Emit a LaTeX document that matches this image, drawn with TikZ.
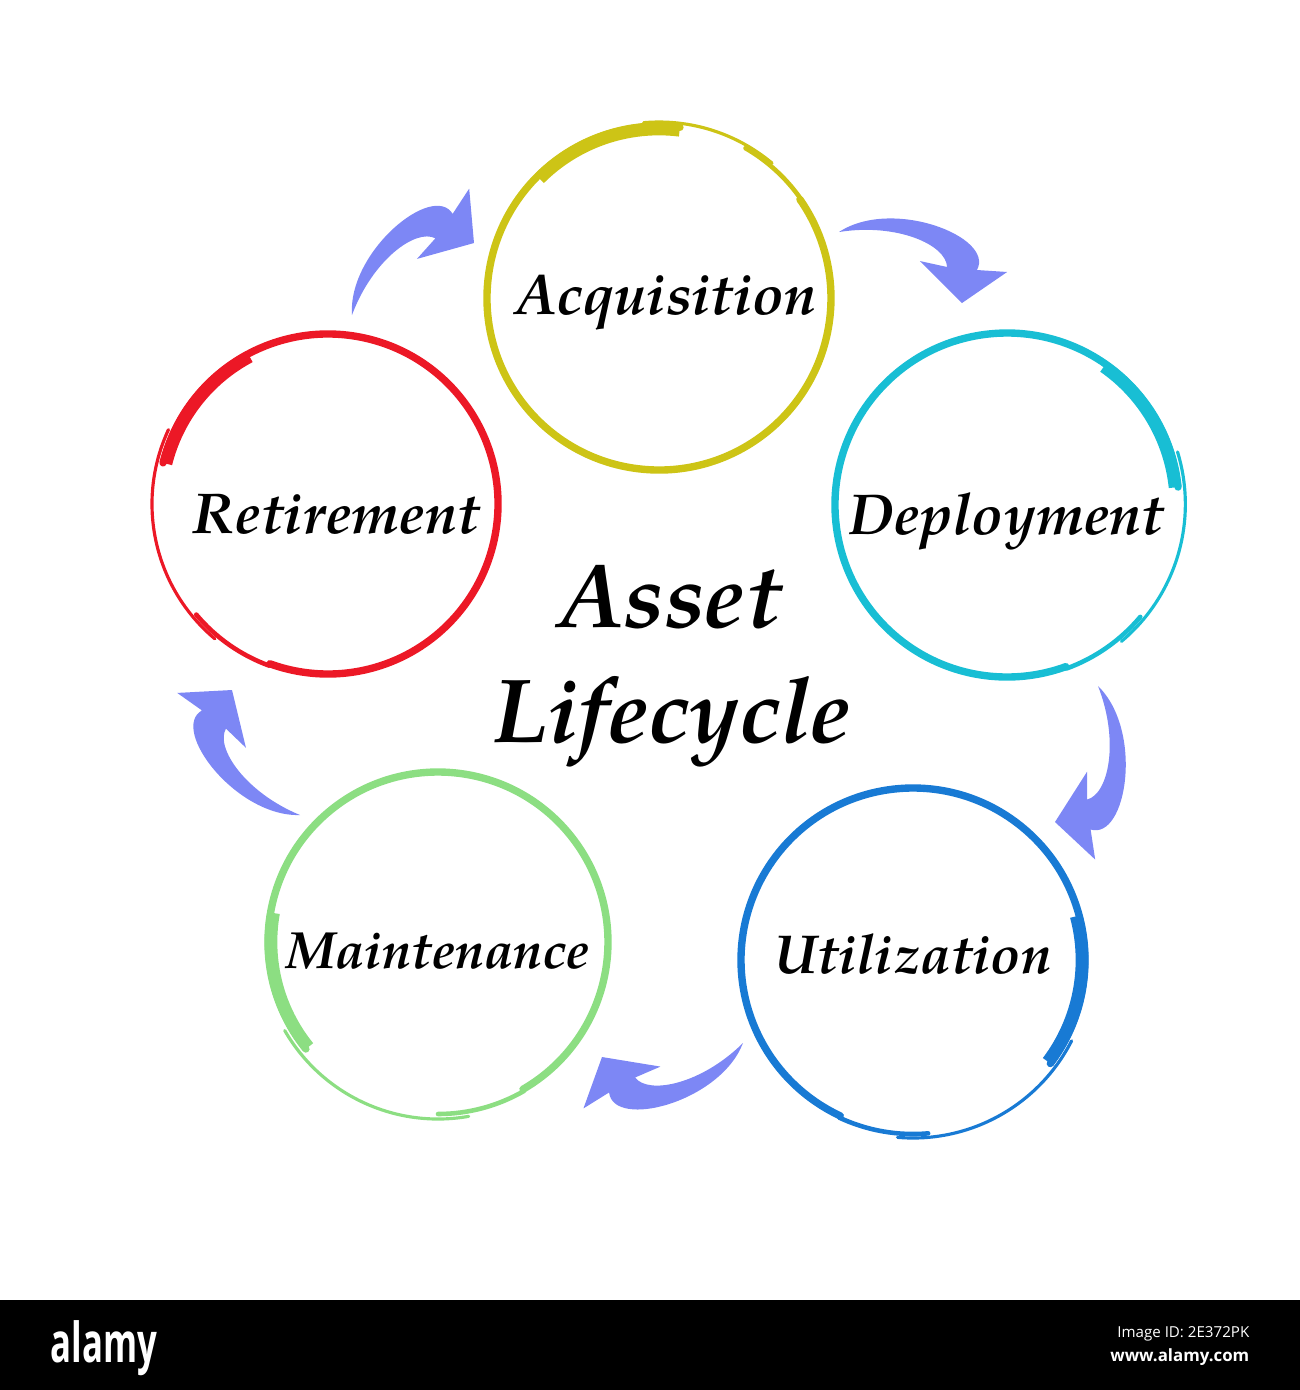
\documentclass[tikz,border=0pt]{standalone}
\usepackage{fontspec}
\usepackage{graphicx}
\usepackage{tikz}
\usetikzlibrary{calc}
\newfontfamily\barfont{Open Sans}
\IfFontExistsTF{TeX Gyre Pagella}{\newfontfamily\stagefam{TeX Gyre Pagella}}{\newfontfamily\stagefam{Liberation Serif}}
\newcommand*{\stagefont}{\stagefam\bfseries\itshape\fontsize{16.4}{18}\selectfont}
\newcommand*{\titlefont}{\stagefam\bfseries\itshape\fontsize{25.9}{30}\selectfont}
\definecolor{acqcol}{RGB}{205,196,22}
\definecolor{depcol}{RGB}{24,190,212}
\definecolor{utilcol}{RGB}{24,122,212}
\definecolor{maintcol}{RGB}{140,222,130}
\definecolor{retcol}{RGB}{236,24,38}
\definecolor{arrowcol}{RGB}{125,135,245}
\tikzset{
  ring/.style={line width=2.1pt, line cap=round},
  taper/.style={line width=1.3pt, line cap=round},
  brush/.style={line width=3.6pt},
  thinring/.style={line width=0.9pt, line cap=round},
  stage/.style={inner sep=0pt, anchor=base, font=\stagefont},
  title/.style={inner sep=0pt, anchor=base, font=\titlefont},
  loc/.style={shift={(\tikztostart)}, x={(\x1,\y1)}, y={(-\y1,\x1)}},
  bigarrow/.style={fill=arrowcol, to path={let \p1=($(\tikztotarget)-(\tikztostart)$) in
    .. controls ([loc]0.2,0.4) and ([loc]0.97,0.52) .. ([loc]0.975,0.254)
    -- ([loc]1.166,0.348) -- (\tikztotarget) -- ([loc]0.596,0.108) -- ([loc]0.782,0.167)
    .. controls ([loc]0.70,0.30) and ([loc]0.32,0.26) .. (\tikztostart)}}
}

\begin{document}
\begin{tikzpicture}
\useasboundingbox (0,0) rectangle (13,-13.9);
\coordinate (acqc) at (6.59,-2.98);
\coordinate (depc) at (10.07,-5.05);
\coordinate (utilc) at (9.13,-9.60);
\coordinate (maintc) at (4.38,-9.42);
\coordinate (retc) at (3.28,-5.04);

\draw[ring,acqcol] (acqc) ++(83:1.72) arc[start angle=83, end angle=395, radius=1.72];
\draw[taper,acqcol] (acqc) ++(395:1.73) arc[start angle=395, end angle=420, radius=1.73];
\draw[brush,acqcol] (acqc) ++(83:1.69) arc[start angle=83, end angle=135, radius=1.69];
\draw[thinring,acqcol] (acqc) ++(410:1.76) arc[start angle=410, end angle=455, radius=1.76];

\draw[ring,depcol] (depc) ++(6:1.72) arc[start angle=6, end angle=290, radius=1.72];
\draw[taper,depcol] (depc) ++(290:1.74) arc[start angle=290, end angle=320, radius=1.74];
\draw[brush,depcol] (depc) ++(6:1.69) arc[start angle=6, end angle=55, radius=1.69];
\draw[thinring,depcol] (depc) ++(310:1.78) arc[start angle=310, end angle=377, radius=1.79];

\draw[ring,utilcol] (utilc) ++(-37:1.72) arc[start angle=-37, end angle=245, radius=1.72];
\draw[taper,utilcol] (utilc) ++(245:1.74) arc[start angle=245, end angle=275, radius=1.74];
\draw[brush,utilcol] (utilc) ++(-37:1.69) arc[start angle=-37, end angle=15, radius=1.69];
\draw[thinring,utilcol] (utilc) ++(265:1.78) arc[start angle=265, end angle=333, radius=1.78];

\draw[ring,maintcol] (maintc) ++(219:1.70) arc[start angle=219, end angle=-60, radius=1.70];
\draw[taper,maintcol] (maintc) ++(-60:1.72) arc[start angle=-60, end angle=-90, radius=1.72];
\draw[brush,maintcol] (maintc) ++(219:1.67) arc[start angle=219, end angle=170, radius=1.67];
\draw[thinring,maintcol] (maintc) ++(-80:1.77) arc[start angle=-80, end angle=-150, radius=1.77];

\draw[ring,retcol] (retc) ++(166:1.70) arc[start angle=166, end angle=-110, radius=1.70];
\draw[taper,retcol] (retc) ++(-110:1.72) arc[start angle=-110, end angle=-140, radius=1.72];
\draw[brush,retcol] (retc) ++(166:1.67) arc[start angle=166, end angle=118, radius=1.67];
\draw[thinring,retcol] (retc) ++(-130:1.76) arc[start angle=-130, end angle=-205, radius=1.76];

\node[stage] (acq) at (6.66,-3.14) {Acquisition};
\node[stage] (dep) at (10.07,-5.34) {Deployment};
\node[stage, font=\stagefont\fontsize{15.6}{18}\selectfont] (util) at (9.13,-9.73) {Utilization};
\node[stage, font=\stagefont\fontsize{14.9}{18}\selectfont] (maint) at (4.38,-9.68) {Maintenance};
\node[stage] (ret) at (3.36,-5.33) {Retirement};
\node[title] (asset) at (6.70,-6.27) {Asset};
\node[title] (life) at (6.72,-7.42) {Lifecycle};

\coordinate (ra) at (3.52,-3.15);
\coordinate (rb) at (4.74,-2.43);
\coordinate (aa) at (8.39,-2.32);
\coordinate (ab) at (9.62,-3.03);
\coordinate (da) at (10.98,-6.86);
\coordinate (db) at (10.55,-8.22);
\coordinate (ua) at (7.43,-10.43);
\coordinate (ub) at (6.02,-10.57);
\coordinate (ma) at (3.00,-8.15);
\coordinate (mb) at (2.32,-6.90);
\path[bigarrow] (ra) to (rb);
\path[bigarrow] (aa) to (ab);
\path[bigarrow] (da) to (db);
\path[bigarrow] (ua) to (ub);
\path[bigarrow] (ma) to (mb);

\fill[black] (0,-13.0) rectangle (13,-13.9);
\node[anchor=base west, inner sep=0pt, text=white, font=\barfont\bfseries\fontsize{15.7}{16}\selectfont] (logo) at (0.50,-13.62) {\scalebox{0.63}[1]{alamy}};
\node[anchor=base east, inner sep=0pt, text=white, font=\barfont\fontsize{4.3}{5}\selectfont] (imgid) at (12.50,-13.37) {Image ID: 2E372PK};
\node[anchor=base east, inner sep=0pt, text=white, font=\barfont\bfseries\fontsize{4.8}{5}\selectfont] (site) at (12.50,-13.61) {www.alamy.com};
\end{tikzpicture}
\end{document}
